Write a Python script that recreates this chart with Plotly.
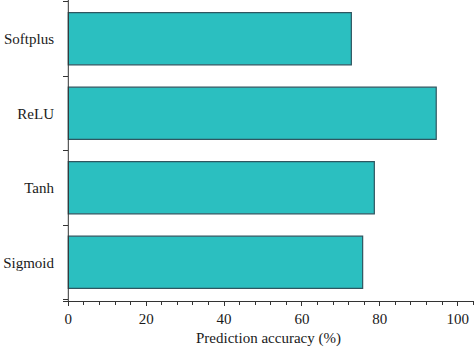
import plotly.graph_objects as go

activations = ["Sigmoid", "Tanh", "ReLU", "Softplus"]
accuracy = [75.6, 78.6, 94.5, 72.7]
x_ticks = [0, 20, 40, 60, 80, 100]

FONT = "Liberation Serif"

fig = go.Figure()
fig.add_trace(go.Bar(
    y=activations,
    x=accuracy,
    orientation="h",
    width=0.7,
    marker=dict(color="#2bbfc0", line=dict(color="#2f5660", width=1.2)),
))

fig.update_layout(
    width=474,
    height=348,
    margin=dict(l=63, r=0, t=0, b=47),
    paper_bgcolor="white",
    plot_bgcolor="white",
    showlegend=False,
    font=dict(family=FONT, size=15, color="#1a1a1a"),
)

fig.update_xaxes(
    range=[-1.36, 104.2],
    tickvals=x_ticks,
    ticks="outside",
    ticklen=4,
    tickwidth=1,
    tickcolor="#333333",
    minor=dict(dtick=4, ticks="outside", ticklen=3, tickcolor="#333333", tickwidth=1),
    showline=True,
    linecolor="#333333",
    linewidth=1,
    showgrid=False,
    zeroline=False,
    tickfont=dict(family=FONT, size=15, color="#1a1a1a"),
    title=dict(text="Prediction accuracy (%)", font=dict(family=FONT, size=15, color="#1a1a1a"), standoff=6),
)

fig.update_yaxes(
    categoryorder="array",
    categoryarray=activations,
    range=[-0.52, 3.52],
    ticks="inside",
    ticklen=5,
    tickwidth=1,
    tickcolor="#333333",
    tickson="boundaries",
    showline=False,
    showgrid=False,
    zeroline=False,
    ticklabelstandoff=8,
    tickfont=dict(family=FONT, size=15, color="#1a1a1a"),
)

# vertical axis line at x = 0
fig.add_shape(type="line", xref="x", yref="paper", x0=0, x1=0, y0=0, y1=1,
              line=dict(color="#333333", width=1))

fig.write_html("out.html")
